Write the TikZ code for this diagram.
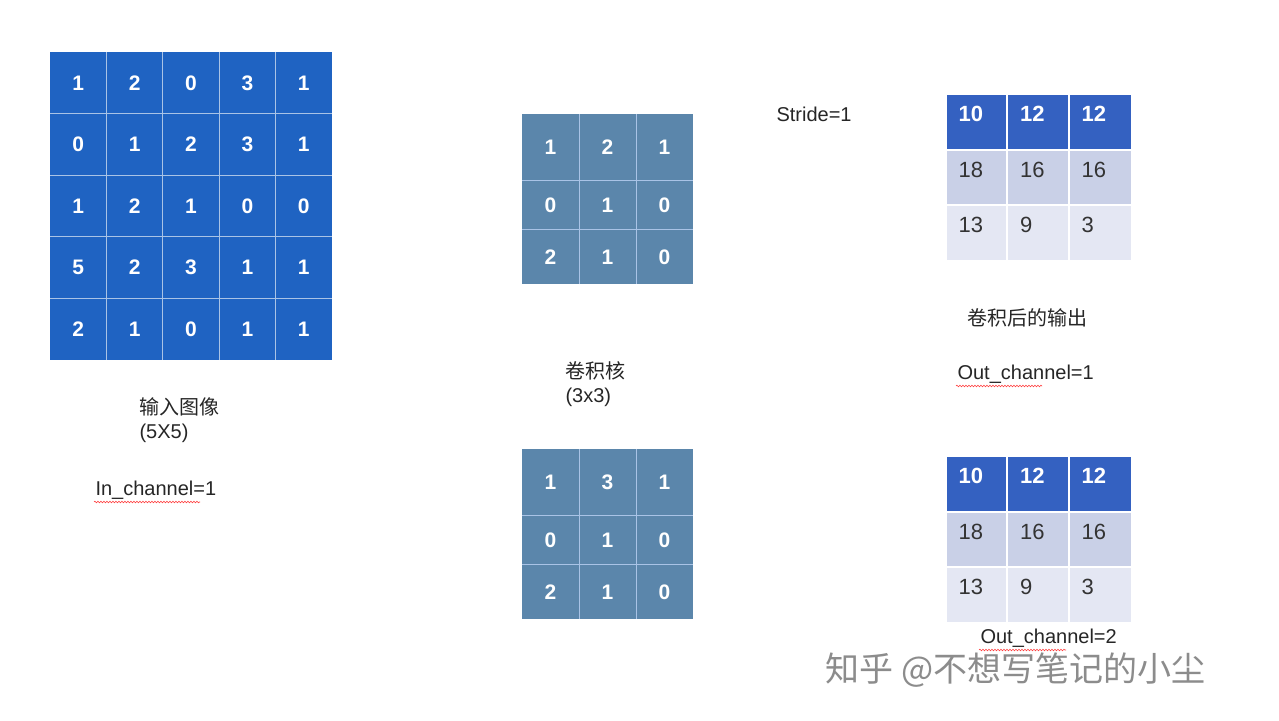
\documentclass[tikz,border=0pt]{standalone}
\usepackage{fontspec}
\setmainfont{Liberation Sans}
\newfontfamily\cjk{Noto Sans CJK SC}
\usetikzlibrary{decorations.pathmorphing}
\definecolor{inblue}{HTML}{1F63C2}
\definecolor{kblue}{HTML}{5B86AB}
\definecolor{ohead}{HTML}{3461C1}
\definecolor{orow2}{HTML}{C9D0E7}
\definecolor{orow3}{HTML}{E4E7F3}
\definecolor{sep}{HTML}{A9C3E6}
\tikzset{
  cellw/.style={font=\bfseries\fontsize{21}{21}\selectfont, text=white},
  cello/.style={font=\fontsize{22}{22}\selectfont, text=black!80},
  lbl/.style={font=\fontsize{20}{24}\selectfont, text=black!85, align=left},
  wavy/.style={draw=red!75, line width=0.6pt, decorate, decoration={snake, amplitude=0.8pt, segment length=3pt}}
}
\begin{document}
\begin{tikzpicture}[x=1pt,y=-1pt]
\useasboundingbox (0,0) rectangle (1279,720);
\fill[white] (0,0) rectangle (1279,720);
% input grid
\def\inrows{{1,2,0,3,1},{0,1,2,3,1},{1,2,1,0,0},{5,2,3,1,1},{2,1,0,1,1}}
\fill[inblue] (50,52) rectangle (332,360);
\foreach \r/\vals in {0/{1,2,0,3,1},1/{0,1,2,3,1},2/{1,2,1,0,0},3/{5,2,3,1,1},4/{2,1,0,1,1}}{
  \foreach \v [count=\c from 0] in \vals {
    \node[cellw] (in\r\c) at ({50+56.4*(\c+0.5)},{52+61.6*(\r+0.5)}) {\v};
  }
}
\foreach \i in {1,...,4}{
  \draw[sep, line width=1pt] ({50+56.4*\i},52) -- ({50+56.4*\i},360);
  \draw[sep, line width=1pt] (50,{52+61.6*\i}) -- (332,{52+61.6*\i});
}
% kernels
\foreach \k/\y/\vals in {a/114/{{1,2,1},{0,1,0},{2,1,0}}, b/449/{{1,3,1},{0,1,0},{2,1,0}}}{
  \fill[kblue] (522,\y) rectangle (693,\y+170);
  \draw[sep, line width=1pt] (579,\y) -- (579,\y+170) (636,\y) -- (636,\y+170)
     (522,\y+66) -- (693,\y+66) (522,\y+115) -- (693,\y+115);
}
\foreach \v [count=\c from 0] in {1,2,1} \node[cellw] (ka0\c) at ({550.5+57*\c},147) {\v};
\foreach \v [count=\c from 0] in {0,1,0} \node[cellw] (ka1\c) at ({550.5+57*\c},205) {\v};
\foreach \v [count=\c from 0] in {2,1,0} \node[cellw] (ka2\c) at ({550.5+57*\c},257) {\v};
\foreach \v [count=\c from 0] in {1,3,1} \node[cellw] (kb0\c) at ({550.5+57*\c},482) {\v};
\foreach \v [count=\c from 0] in {0,1,0} \node[cellw] (kb1\c) at ({550.5+57*\c},540) {\v};
\foreach \v [count=\c from 0] in {2,1,0} \node[cellw] (kb2\c) at ({550.5+57*\c},592) {\v};
% outputs
\foreach \o/\y in {a/95, b/457}{
  \fill[ohead] (947,\y) rectangle (1131,\y+55);
  \fill[orow2] (947,\y+55) rectangle (1131,\y+110);
  \fill[orow3] (947,\y+110) rectangle (1131,\y+165);
  \draw[white, line width=1.5pt] (1007,\y) -- (1007,\y+165) (1069,\y) -- (1069,\y+165)
     (947,\y+55) -- (1131,\y+55) (947,\y+110) -- (1131,\y+110);
  \foreach \v [count=\c from 0] in {10,12,12}
    \node[cellw, font=\bfseries\fontsize{22}{22}\selectfont, anchor=west] (o\o0\c) at ({955+61.5*\c},\y+19) {\v};
  \foreach \v [count=\c from 0] in {18,16,16}
    \node[cello, anchor=west] (o\o1\c) at ({955+61.5*\c},\y+75) {\v};
  \foreach \v [count=\c from 0] in {13,9,3}
    \node[cello, anchor=west] (o\o2\c) at ({955+61.5*\c},\y+130) {\v};
}
% labels
\node[lbl, anchor=north west] (inlab) at (136,394) {{\cjk 输入图像}\\(5X5)};
\node[lbl, anchor=west] (inch) at (92,490) {In\_channel=1};
\draw[wavy] (94,502) -- (200,502);
\node[lbl, anchor=north west] (klab) at (562,358) {{\cjk 卷积核}\\(3x3)};
\node[lbl, anchor=west] (stride) at (773,114) {Stride=1};
\node[lbl, anchor=west] (olab) at (964,318) {\cjk 卷积后的输出};
\node[lbl, anchor=west] (och1) at (954,374) {Out\_channel=1};
\draw[wavy] (956,386) -- (1042,386);
\node[lbl, anchor=west] (och2) at (977,638) {Out\_channel=2};
\draw[wavy] (979,650) -- (1066,650);
\node[font=\cjk\fontsize{34}{34}\selectfont, text=black!45, anchor=west] (wm) at (822,670) {知乎 @不想写笔记的小尘};
\end{tikzpicture}
\end{document}
